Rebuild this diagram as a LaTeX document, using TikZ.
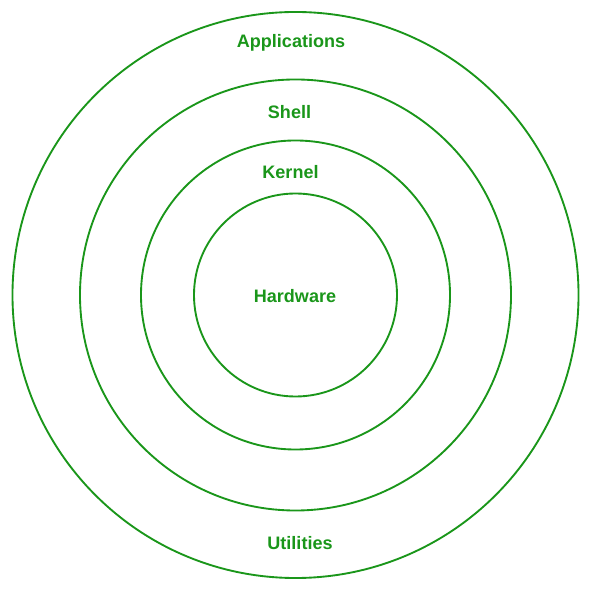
\documentclass[tikz,border=0pt]{standalone}
\usepackage{fontspec}
\setmainfont{Liberation Sans}
\definecolor{layergreen}{RGB}{26,150,26}

\begin{document}
\begin{tikzpicture}[x=0.03cm,y=0.03cm]

\def\ox{295.5}
\def\oy{294}

\tikzset{
  ring/.style={draw=layergreen, line width=1.6pt},
  layer/.style={text=layergreen, font=\fontsize{15.4}{18}\selectfont\bfseries, inner sep=0pt}
}

\path [use as bounding box] (0,0) rectangle (589,589);

% RINGS
\draw [ring] (\ox,\oy) circle [radius=8.49cm];
\draw [ring] (\ox,\oy) circle [radius=6.465cm];
\draw [ring] (\ox,\oy) circle [radius=4.635cm];
\draw [ring] (\ox,\oy) circle [radius=3.045cm];

% LABELS
\node [layer] (apps) at (291,546) {Applications};
\node [layer] (shell) at (289.5,477) {Shell};
\node [layer] (kernel) at (290.5,417) {Kernel};
\node [layer] (hw) at (295,293) {Hardware};
\node [layer] (utils) at (300,46) {Utilities};

\end{tikzpicture}
\end{document}
